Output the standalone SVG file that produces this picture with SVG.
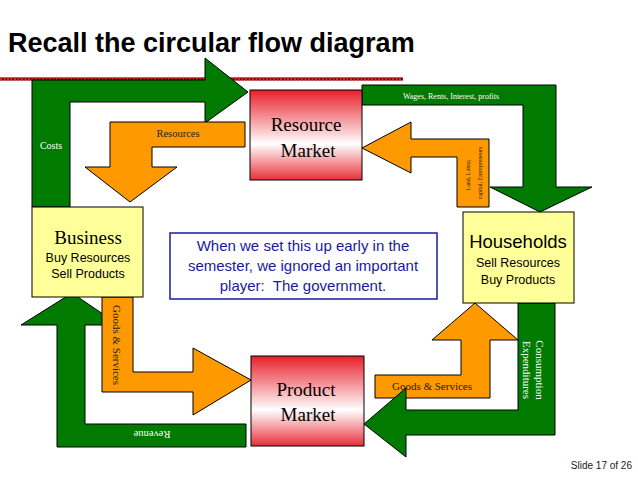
<svg xmlns="http://www.w3.org/2000/svg" width="638" height="479" viewBox="0 0 638 479">
<defs>
<linearGradient id="rg" x1="0" y1="0" x2="0" y2="1">
<stop offset="0" stop-color="#e8202a"/><stop offset="0.6" stop-color="#ffffff"/><stop offset="1" stop-color="#e8303a"/>
</linearGradient>
<style>
.g{fill:#007a00;stroke:#000;stroke-width:1}
.o{fill:#ff9900;stroke:#000;stroke-width:1}
.y{fill:#ffff99;stroke:#000;stroke-width:1}
.m{fill:url(#rg);stroke:#000;stroke-width:1}
.serif{font-family:"Liberation Serif",serif}
.sans{font-family:"Liberation Sans",Arial,sans-serif}
</style>
</defs>
<rect width="638" height="479" fill="#fff"/>
<text x="8" y="52" class="sans" font-size="27" font-weight="bold">Recall the circular flow diagram</text>
<line x1="0" y1="79" x2="403" y2="79" stroke="#600" stroke-width="3"/>
<line x1="0" y1="79" x2="403" y2="79" stroke="#e02020" stroke-width="3" stroke-dasharray="2 1.5"/>
<g id="connectors">
<path class="g" d="M32,207 L32,80 L205,80 L205,58 L248,92 L205,123 L205,102 L70,102 L70,207 Z"/>
<path class="o" d="M245,122 L110,122 L110,167 L85,167 L130,202 L177,167 L152,167 L152,147 L245,147 Z"/>
<path class="g" d="M362,85 L556,85 L556,187 L592,187 L540,212 L490,187 L523,187 L523,105 L362,105 Z"/>
<path class="o" d="M362,148 L411,122 L411,139 L489,139 L489,207 L457,207 L457,157 L411,157 L411,173 Z"/>
<path class="g" d="M246,447 L57,447 L57,325 L21,325 L72,293 L119,325 L85,325 L85,424 L246,424 Z"/>
<path class="o" d="M102,297 L133,297 L133,372 L193,372 L193,348 L251,380 L193,415 L193,392 L102,392 Z"/>
<path class="o" d="M375,398 L490,398 L490,340 L518,340 L475,303 L432,340 L461,340 L461,375 L375,375 Z"/>
<path class="g" d="M555,303 L555,435 L406,435 L406,457 L364,424 L406,388 L406,410 L518,410 L518,303 Z"/>
<text x="51" y="149" class="serif" font-size="10" fill="#fff" text-anchor="middle">Costs</text>
<text x="178" y="137" class="serif" font-size="10.5" fill="#222" text-anchor="middle">Resources</text>
<text x="451" y="99" class="serif" font-size="8" fill="#fff" text-anchor="middle">Wages, Rents, Interest, profits</text>
<text transform="translate(470,175) rotate(-90)" class="serif" font-size="6" fill="#222" text-anchor="middle">Land, Labor,</text>
<text transform="translate(482,173) rotate(-90)" class="serif" font-size="6" fill="#222" text-anchor="middle">capital, Entrepreneurs</text>
<text transform="translate(113,345) rotate(90)" class="serif" font-size="11" fill="#222" text-anchor="middle">Goods &amp; Services</text>
<text x="432" y="390" class="serif" font-size="11" fill="#222" text-anchor="middle">Goods &amp; Services</text>
<text transform="translate(152,431) rotate(180)" class="serif" font-size="10.5" fill="#fff" text-anchor="middle">Revenue</text>
<text transform="translate(536,370) rotate(90)" class="serif" font-size="11" fill="#fff" text-anchor="middle">Consumption</text>
<text transform="translate(523,370) rotate(90)" class="serif" font-size="11" fill="#fff" text-anchor="middle">Expenditures</text>
</g>
<g id="resource-market">
<rect class="m" x="250" y="90" width="112" height="90"/>
<text x="306" y="131" class="serif" font-size="19" text-anchor="middle">Resource</text>
<text x="308" y="157" class="serif" font-size="19" text-anchor="middle">Market</text>
</g>
<g id="product-market">
<rect class="m" x="251" y="356" width="113" height="90"/>
<text x="306" y="396" class="serif" font-size="19" text-anchor="middle">Product</text>
<text x="308" y="421" class="serif" font-size="19" text-anchor="middle">Market</text>
</g>
<g id="business">
<rect class="y" x="32" y="207" width="111" height="90"/>
<text x="88" y="244" class="serif" font-size="19" text-anchor="middle">Business</text>
<text x="88" y="262" class="sans" font-size="12.5" text-anchor="middle">Buy Resources</text>
<text x="88" y="278" class="sans" font-size="12.5" text-anchor="middle">Sell Products</text>
</g>
<g id="households">
<rect class="y" x="463" y="212" width="111" height="91"/>
<text x="518" y="248" class="sans" font-size="18.5" text-anchor="middle">Households</text>
<text x="518" y="267" class="sans" font-size="12.5" text-anchor="middle">Sell Resources</text>
<text x="518" y="284" class="sans" font-size="12.5" text-anchor="middle">Buy Products</text>
</g>
<g id="note">
<rect x="170" y="233" width="267" height="66" fill="#fff" stroke="#1a1aa0" stroke-width="1.5"/>
<text x="303" y="251" class="sans" font-size="15" fill="#1a1aa0" text-anchor="middle">When we set this up early in the</text>
<text x="303" y="271" class="sans" font-size="15" fill="#1a1aa0" text-anchor="middle">semester, we ignored an important</text>
<text x="303" y="291" class="sans" font-size="15" fill="#1a1aa0" text-anchor="middle" xml:space="preserve">player:  The government.</text>
</g>
<text x="632" y="469" class="sans" font-size="10" fill="#222" text-anchor="end">Slide 17 of 26</text>
</svg>
